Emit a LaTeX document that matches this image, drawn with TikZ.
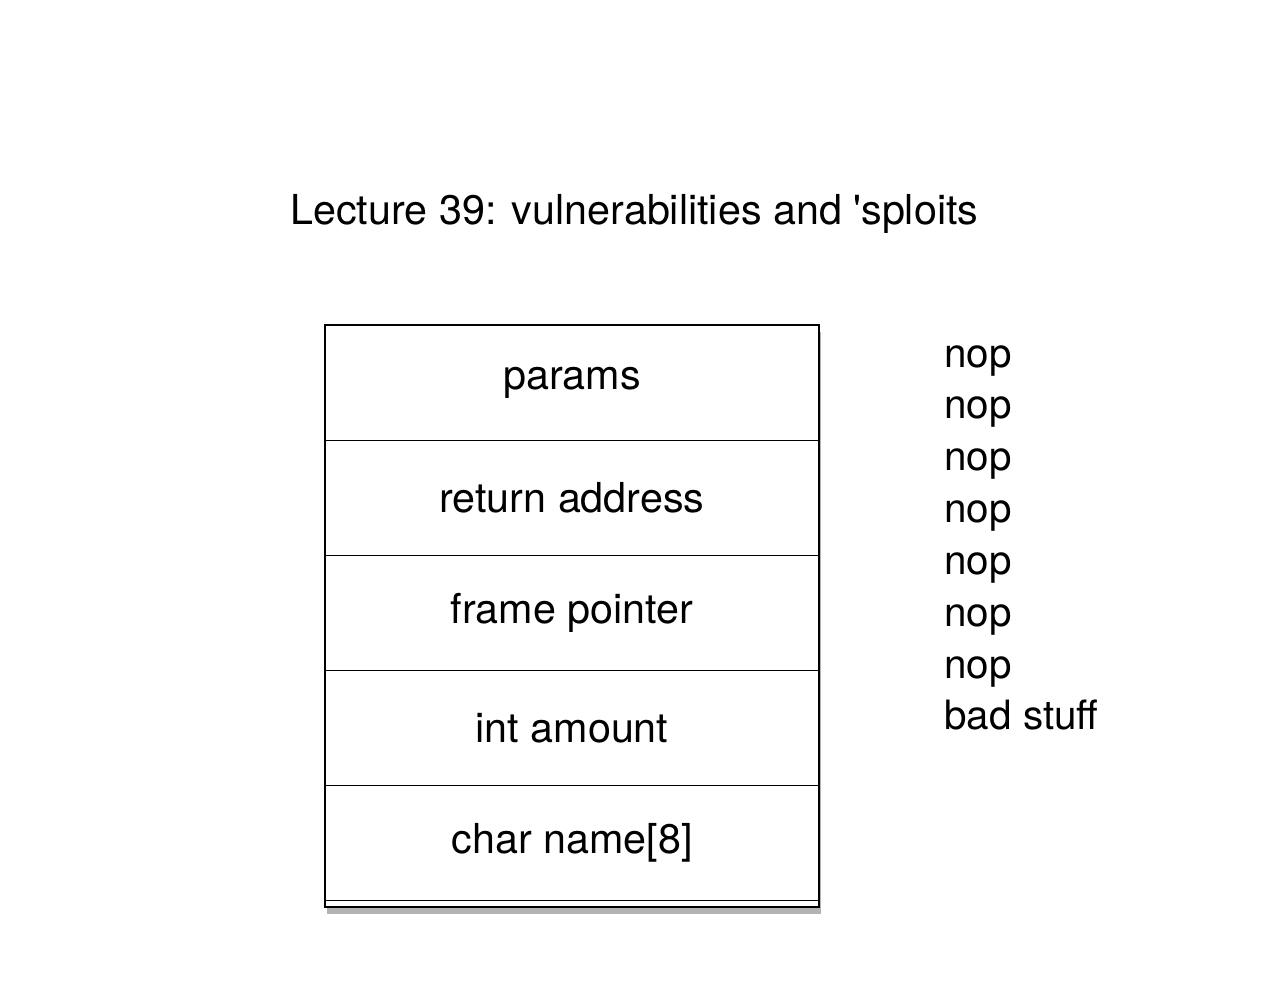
\documentclass[tikz,border=0pt]{standalone}
\usepackage{fontspec}
\setmainfont{TeX Gyre Heros}
\usetikzlibrary{positioning, shadows}
\begin{document}
\begin{tikzpicture}[
        x=0.02cm, y=-0.02cm,
        cell/.style={
            rectangle, draw=black, thick,
            minimum width=9.88cm, minimum height=2.3cm, outer sep=0pt,
            inner sep=0pt, font=\fontsize{23.5}{26}\selectfont
        },
        stackbox/.style={draw=black, thick, fill=white,
            drop shadow={shadow xshift=1pt, shadow yshift=-4pt, opacity=0.6}},
        label/.style={font=\fontsize{23}{29.5}\selectfont, align=left, anchor=north west, inner sep=0pt}
    ]
    \useasboundingbox (0,0) rectangle (1280,989);

    % TITLE
    \node[anchor=base west, inner sep=0pt, font=\fontsize{23.5}{26}\selectfont] (title) at (290,225)
        {Lecture 39: vulnerabilities and \textquotesingle sploits};

    % STACK FRAME
    \path[stackbox] (325,325) rectangle (819,907);
    \node[cell] (params) at (572,383.2) {params};
    \node[cell, below=0pt of params] (retaddr) {return address};
    \node[cell, below=0pt of retaddr] (framept) {frame pointer};
    \node[cell, below=0pt of framept] (amount) {int amount};
    \node[cell, below=0pt of amount] (name) {char name[8]};

    % PAYLOAD
    \node[label] (payload) at (944,345)
        {nop\\nop\\nop\\nop\\nop\\nop\\nop\\bad stuff};
\end{tikzpicture}
\end{document}
